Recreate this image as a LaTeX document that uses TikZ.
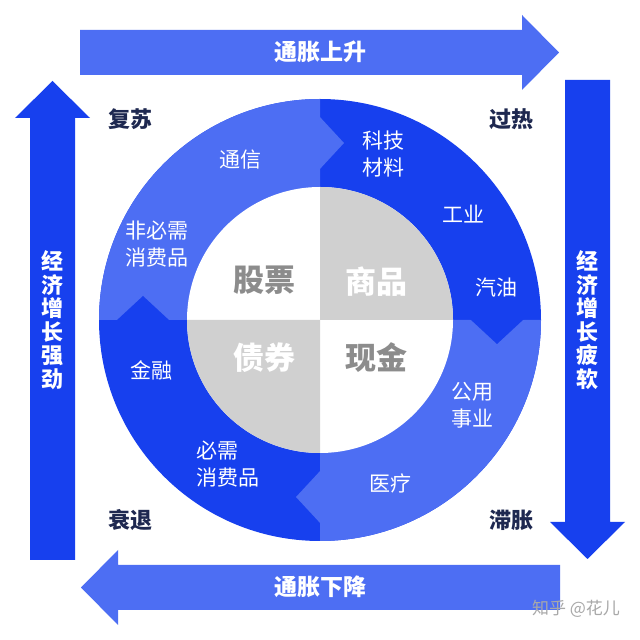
\documentclass[tikz,border=0pt]{standalone}
\usepackage{fontspec}
\setmainfont{Noto Sans CJK SC}
\definecolor{lightb}{HTML}{4D6EF3}
\definecolor{darkb}{HTML}{1740EE}
\definecolor{navy}{HTML}{1E2850}
\definecolor{grayq}{HTML}{D0D0D0}
\definecolor{grayt}{HTML}{8C8C8C}
\definecolor{wmark}{HTML}{A8A8A8}
\begin{document}
\begin{tikzpicture}[x=1pt,y=1pt,
  ringtxt/.style={text=white,font=\fontsize{21}{27}\selectfont,align=center,inner sep=0pt},
  phase/.style={text=navy,font=\fontsize{22}{26}\selectfont\bfseries,inner sep=0pt},
  inner/.style={font=\fontsize{31}{34}\selectfont\bfseries,inner sep=0pt},
  arrtxt/.style={text=white,font=\fontsize{23}{26}\selectfont\bfseries,inner sep=0pt},
  vtxt/.style={text=white,font=\fontsize{22}{23.5}\selectfont\bfseries,align=center,inner sep=0pt}]
\useasboundingbox (0,0) rectangle (640,640);
\fill[white] (0,0) rectangle (640,640);
% big arrows
\fill[lightb] (80,565) -- (522,565) -- (522,550) -- (559,587.5) -- (522,625) -- (522,610) -- (80,610) -- cycle;
\begin{scope}[rotate around={90:(320,320)}]
\fill[darkb] (80,565) -- (522,565) -- (522,550) -- (559,587.5) -- (522,625) -- (522,610) -- (80,610) -- cycle;
\end{scope}
\begin{scope}[rotate around={180:(320,320)}]
\fill[lightb] (80,565) -- (522,565) -- (522,550) -- (559,587.5) -- (522,625) -- (522,610) -- (80,610) -- cycle;
\end{scope}
\begin{scope}[rotate around={-90:(320,320)}]
\fill[darkb] (80,565) -- (522,565) -- (522,550) -- (559,587.5) -- (522,625) -- (522,610) -- (80,610) -- cycle;
\end{scope}
% ring
\fill[darkb] (320,320) circle (221);
\fill[lightb] (320,320) -- (320,541) arc[start angle=90,end angle=180,radius=221] -- cycle;
\fill[lightb] (320,320) -- (320,99) arc[start angle=270,end angle=360,radius=221] -- cycle;
\fill[lightb] (319,470) -- (344,497) -- (319,524) -- cycle;
\fill[lightb] (321,116) -- (296,143) -- (321,170) -- cycle;
\fill[darkb] (116,319) -- (143,344) -- (170,319) -- cycle;
\fill[darkb] (470,321) -- (497,296) -- (524,321) -- cycle;
% inner circle
\fill[white] (320,320) circle (133);
\fill[grayq] (320,320) -- (320,453) arc[start angle=90,end angle=0,radius=133] -- cycle;
\fill[grayq] (320,320) -- (320,187) arc[start angle=270,end angle=180,radius=133] -- cycle;
% inner texts
\node[inner,text=grayt] (gp) at (264,360) {股票};
\node[inner,text=white] (sp) at (376,358) {商品};
\node[inner,text=white] (zq) at (264,282) {债券};
\node[inner,text=grayt] (xj) at (376,282) {现金};
% ring texts
\node[ringtxt] (tx) at (240,480) {通信};
\node[ringtxt] (fbx) at (157,396) {非必需\\消费品};
\node[ringtxt] (kj) at (383,486) {科技\\材料};
\node[ringtxt] (gy) at (463,426) {工业};
\node[ringtxt] (qy) at (496,352) {汽油};
\node[ringtxt] (jr) at (151,270) {金融};
\node[ringtxt] (gysy) at (472,235) {公用\\事业};
\node[ringtxt,align=left,anchor=west] (bx) at (196,176) {必需\\消费品};
\node[ringtxt] (yl) at (390,157) {医疗};
% phases
\node[phase] (fs) at (130,521) {复苏};
\node[phase] (gr) at (511,521) {过热};
\node[phase] (st) at (130,120) {衰退};
\node[phase] (zz) at (511,120) {滞胀};
% arrow texts
\node[arrtxt] (up) at (320,588) {通胀上升};
\node[arrtxt] (down) at (320,53) {通胀下降};
\node[vtxt] (strong) at (52,320) {经\\济\\增\\长\\强\\劲};
\node[vtxt] (weak) at (587,320) {经\\济\\增\\长\\疲\\软};
% watermark
\node[text=wmark,font=\fontsize{17}{20}\selectfont,inner sep=0pt] (wm) at (576,31) {知乎 @花儿};
\end{tikzpicture}
\end{document}
